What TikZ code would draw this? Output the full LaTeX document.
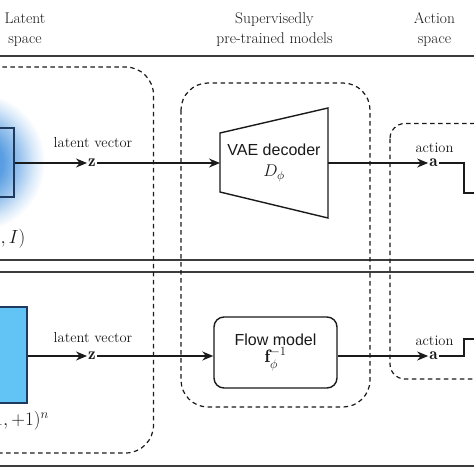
\RequirePackage{fix-cm}
\documentclass[tikz,border=0pt]{standalone}
\usepackage{amsmath}
\usepackage{fontspec}
\newfontfamily\sansfont{Liberation Sans}
\usetikzlibrary{arrows.meta}
\definecolor{ink}{HTML}{1A1A1A}
\definecolor{rulegray}{HTML}{3C3C3C}
\definecolor{navy}{HTML}{1E3A5F}
\definecolor{skyfill}{HTML}{62C3F5}
\definecolor{glowblue}{HTML}{3E8EDD}
\pgfdeclareradialshading{glowshade}{\pgfpoint{0bp}{0bp}}{color(0bp)=(glowblue); color(10bp)=(glowblue!85!white); color(16bp)=(glowblue!52!white); color(21bp)=(glowblue!20!white); color(25bp)=(white); color(50bp)=(white)}
\begin{document}
\begin{tikzpicture}[x=1pt,y=-1pt,
  head/.style={anchor=north, inner sep=0pt, align=center, font=\fontsize{15.5}{20}\selectfont, text=ink},
  lbl/.style={inner sep=0pt, font=\fontsize{14.5}{17}\selectfont, text=ink},
  vec/.style={inner sep=1pt, font=\fontsize{17}{19}\selectfont, text=ink},
  mlbl/.style={inner sep=0pt, anchor=east, font=\fontsize{19}{22}\selectfont, text=ink},
  solidline/.style={draw=ink, line width=1.4pt},
  arr/.style={solidline, -{Stealth[length=11pt,width=9pt]}},
  dashbox/.style={draw=ink, line width=1.2pt, dash pattern=on 4.5pt off 3.5pt},
  rulestyle/.style={draw=rulegray, line width=1.8pt},
  modeltext/.style={align=center, text=ink, font=\sansfont\fontsize{16}{18}\selectfont}
]
\useasboundingbox (0,0) rectangle (474,474);
\clip (0,0) rectangle (474,474);
\fill[white] (0,0) rectangle (474,474);
% glow
\shade[shading=glowshade] (-25,162) circle (70pt);
% rules
\draw[rulestyle] (0,56) -- (474,56);
\draw[rulestyle] (0,260) -- (474,260);
\draw[rulestyle] (0,272) -- (474,272);
\draw[rulestyle] (0,466) -- (474,466);
% headers
\node[head] (h1) at (25,12.5) {Latent\\space};
\node[head] (h2) at (274.5,12.5) {Supervisedly\\pre-trained models};
\node[head] (h3) at (434.5,12.5) {Action\\space};
% dashed groups
\draw[dashbox, rounded corners=28pt] (-40,67) rectangle (153.5,453);
\draw[dashbox, rounded corners=27pt] (181,83) rectangle (370,407);
\draw[dashbox, rounded corners=15pt] (390,123.5) rectangle (530,379);
% top panel
\node[draw=navy, line width=1.3pt, minimum width=54pt, minimum height=69pt, inner sep=0pt] (box1) at (-13,162.5) {};
\node[mlbl] (dist1) at (25.5,239) {$\mathcal{N}(0,I)$};
\node[vec] (z1) at (92,163) {$\mathbf{z}$};
\node[lbl] (lv1) at (93,142.5) {latent vector};
\coordinate (tl) at (220,133);
\coordinate (bl) at (220,192);
\coordinate (tr) at (328,108);
\coordinate (br) at (328,218);
\coordinate (vin) at (220,163);
\coordinate (vout) at (328,163);
\draw[solidline, line join=miter] (tl) -- (tr) -- (br) -- (bl) -- cycle;
\node[modeltext] (vae) at (274,163) {VAE decoder\\[3pt]{\fontsize{17}{19}\selectfont$D_\phi$}};
\node[vec] (a1) at (433.5,163) {$\mathbf{a}$};
\node[lbl] (act1) at (434.5,148) {action};
\coordinate (k1) at (464,163);
\coordinate (out1) at (480,193);
\draw[arr] (z1 -| box1.east) -- (z1.west);
\draw[arr] (z1.east) -- (vin);
\draw[arr] (vout) -- (a1.west);
\draw[solidline] (a1.east) -- (k1) |- (out1);
% bottom panel
\node[draw=navy, fill=skyfill, line width=1.3pt, minimum width=67pt, minimum height=96pt, inner sep=0pt] (box2) at (-6.5,355) {};
\node[mlbl] (dist2) at (49,421) {$\mathcal{U}(-1,+1)^n$};
\node[vec] (z2) at (92,356) {$\mathbf{z}$};
\node[lbl] (lv2) at (93,338) {latent vector};
\node[draw=ink, line width=1.4pt, rounded corners=10pt, minimum width=123pt, minimum height=71pt, modeltext] (flow) at (275.5,352.5) {Flow model\\[-1pt]{\fontsize{18}{20}\selectfont$\mathbf{f}_\phi^{-1}$}};
\node[vec] (a2) at (433.5,356) {$\mathbf{a}$};
\node[lbl] (act2) at (434.5,341) {action};
\coordinate (k2) at (464,356);
\coordinate (out2) at (480,339);
\draw[arr] (z2 -| box2.east) -- (z2.west);
\draw[arr] (z2.east) -- (z2 -| flow.west);
\draw[arr] (flow.east |- a2) -- (a2.west);
\draw[solidline] (a2.east) -- (k2) |- (out2);
\end{tikzpicture}
\end{document}
